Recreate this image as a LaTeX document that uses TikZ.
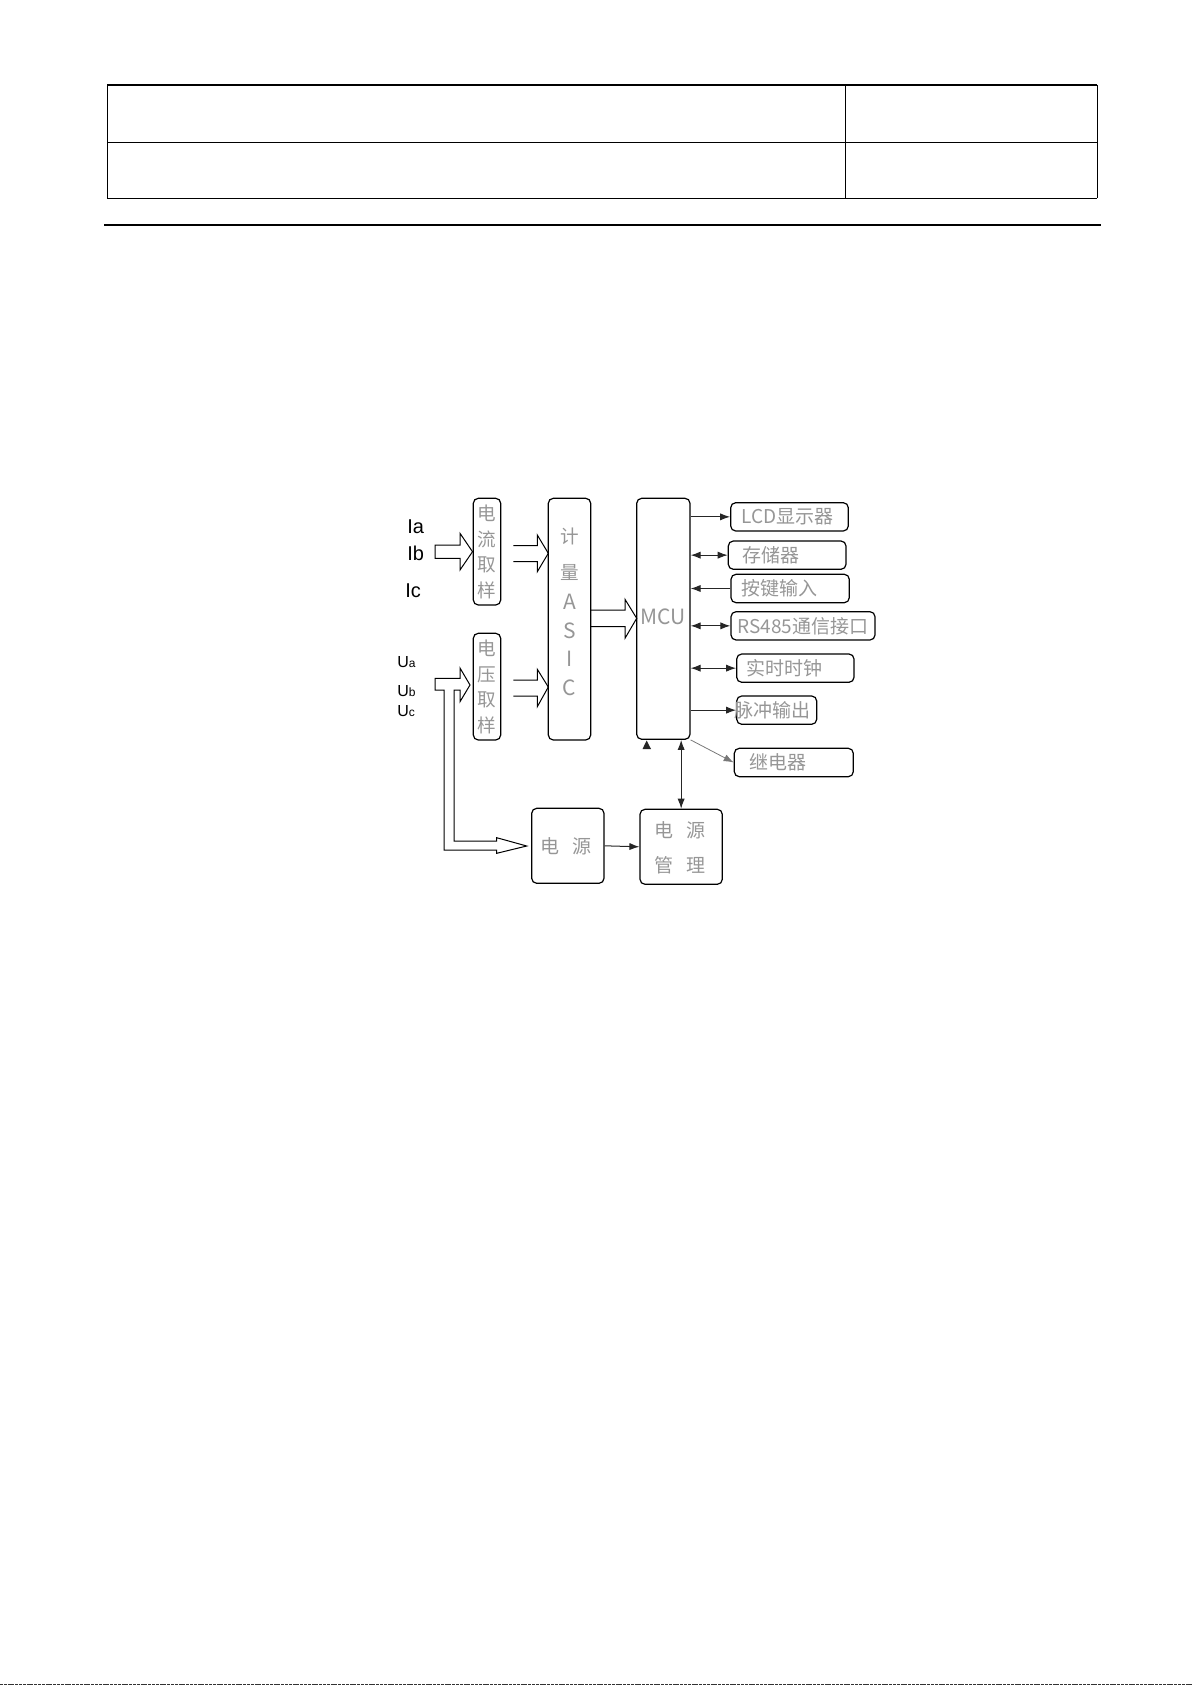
\documentclass[tikz,border=0pt]{standalone}
\usepackage{fontspec}
\setmainfont{Liberation Sans}
\newfontfamily\cjk{Noto Sans CJK SC}
\usetikzlibrary{arrows.meta,fit}
\definecolor{txtgray}{RGB}{150,150,150}
\definecolor{linegray}{RGB}{120,120,120}
\begin{document}
\begin{tikzpicture}[x=0.5pt,y=-0.5pt,
  blk/.style={draw=black, line width=0.6pt, rounded corners=2.5pt, inner sep=0pt},
  lbl/.style={font=\cjk\fontsize{9.5}{11}\selectfont, text=txtgray, inner sep=0pt},
  vlbl/.style={font=\cjk\fontsize{9.3}{12.85}\selectfont, text=txtgray, align=center, inner sep=0pt},
  conn/.style={line width=0.5pt, draw=black!85, -{Latex[length=5pt,width=3.6pt]}},
  conn2/.style={line width=0.5pt, draw=black!85, {Latex[length=5pt,width=3.6pt]}-{Latex[length=5pt,width=3.6pt]}},
  hollow/.style={draw=black, line width=0.5pt, line join=miter},
  sig/.style={font=\fontsize{10}{12}\selectfont, inner sep=0pt, anchor=base west},
  sigu/.style={font=\fontsize{8}{9}\selectfont, inner sep=0pt, anchor=base west},
  rule/.style={draw=black, line width=0.6pt},
  vrule/.style={draw=black, line width=0.4pt}
]
\useasboundingbox (0,0) rectangle (1192,1685);

% header table
\draw[rule] (107.2,85) -- (1097,85);
\draw[rule] (107.2,142.3) -- (1097,142.3);
\draw[rule] (107.2,198.3) -- (1097,198.3);
\draw[vrule] (107.2,85) -- (107.2,198.3);
\draw[vrule] (845.4,85) -- (845.4,198.3);
\draw[vrule] (1097,85) -- (1097,198.3);
\draw[draw=black, line width=1.1pt] (104,225) -- (1100.8,225);

% bottom edge
\draw[draw=black!80, line width=0.5pt, dash pattern=on 1.5pt off 0.4pt] (0,1684) -- (1192,1684);

% boxes
\node[blk, fit={(473.3,498.3) (500.7,605)}] (cs) {};
\node[blk, fit={(473.3,633.3) (500.7,740)}] (vs) {};
\node[blk, fit={(548.3,498.3) (590.7,740)}] (asic) {};
\node[blk, fit={(636.7,498.3) (690,739.3)}] (mcu) {};
\node[blk, fit={(730.7,502.7) (848.3,531)}] (lcd) {};
\node[blk, fit={(728.3,541) (846,569.3)}] (mem) {};
\node[blk, fit={(731,574.3) (849.3,602.7)}] (key) {};
\node[blk, fit={(731,611.7) (875,640)}] (rs) {};
\node[blk, fit={(736.7,654) (854,682.3)}] (rtc) {};
\node[blk, fit={(736.7,696) (816.7,724.3)}] (pulse) {};
\node[blk, fit={(734.3,748.3) (853.3,776.7)}] (relay) {};
\node[blk, fit={(531.7,808.3) (604,883.3)}] (psu) {};
\node[blk, fit={(640,809.3) (722.3,884.3)}] (pm) {};

% box texts
\node[vlbl] (tcs) at (487,552) {电\\流\\取\\样};
\node[vlbl] (tvs) at (487,687) {电\\压\\取\\样};
\node[vlbl, font=\cjk\fontsize{9.3}{17.85}\selectfont] (tasic1) at (569.5,554) {计\\量};
\node[vlbl, font=\cjk\fontsize{10.5}{14.25}\selectfont] (tasic2) at (569.5,645) {A\\S\\I\\C};
\node[lbl, font=\cjk\fontsize{10.5}{12}\selectfont] (tmcu) at (663,617) {MCU};
\node[lbl] (tlcd) at (787.5,517) {LCD显示器};
\node[lbl] (tmem) at (770.7,555) {存储器};
\node[lbl] (tkey) at (779,588.5) {按键输入};
\node[lbl] (trs) at (803,626) {RS485通信接口};
\node[lbl] (trtc) at (784,668) {实时时钟};
\node[lbl] (tpulse) at (772,710) {脉冲输出};
\node[lbl] (trelay) at (778,762.5) {继电器};
\node[lbl] (tpsu) at (566,846) {电\hspace{7pt}源};
\node[lbl, align=center, font=\cjk\fontsize{9.5}{17.5}\selectfont] (tpm) at (680,847.5) {电\hspace{7pt}源\\管\hspace{7pt}理};

% input labels
\node[sig] (ia) at (407,533.3) {Ia};
\node[sig] (ib) at (407,560) {Ib};
\node[sig] (ic) at (405,597) {Ic};
\node[sigu] (ua) at (397,667) {U{\fontsize{6}{7}\selectfont a}};
\node[sigu] (ub) at (397,696) {U{\fontsize{6}{7}\selectfont b}};
\node[sigu] (uc) at (397,716.7) {U{\fontsize{6}{7}\selectfont c}};

% hollow block arrows
\draw[hollow] (435,545) -- (460,545) -- (460,533.3) -- (472.5,551.7) -- (460,570) -- (460,558.3) -- (435,558.3) -- cycle;
\draw[hollow] (513.3,545.7) -- (537.3,545.7) -- (537.3,535) -- (548.3,553.3) -- (537.3,571.7) -- (537.3,561.7) -- (513.3,561.7);
\draw[hollow] (513.3,680) -- (537.3,680) -- (537.3,669.3) -- (548.3,687) -- (537.3,706.7) -- (537.3,696) -- (513.3,696);
\draw[hollow] (590.7,610) -- (625,610) -- (625,599.3) -- (636.7,618.3) -- (625,638.3) -- (625,626.7) -- (590.7,626.7);
\draw[hollow] (435,678.3) -- (460,678.3) -- (460,668) -- (470,685) -- (460,701.7) -- (460,690)
  -- (454,690) -- (454,841) -- (496.7,841) -- (496.7,837.7) -- (526.7,846) -- (496.7,853.3)
  -- (496.7,850) -- (444,850) -- (444,690) -- (435,690) -- cycle;

% connectors
\draw[conn] (mcu.east |- lcd.west) -- (lcd.west);
\draw[conn2] (mcu.east |- mem.west) -- (mem.west);
\draw[conn] (key.west) -- (mcu.east |- key.west);
\draw[conn2] (mcu.east |- rs.west) -- (rs.west);
\draw[conn2] (mcu.east |- rtc.west) -- (rtc.west);
\draw[conn] (mcu.east |- pulse.west) -- (pulse.west);
\draw[conn, draw=linegray, line width=0.4pt] (mcu.south east) -- (relay.west);
\draw[conn2] (pm.north) -- (pm.north |- mcu.south);
\draw[conn] (psu.east) -- (pm.west);
\fill[black!85] (642.5,749) -- (651,749) -- (646.7,740.5) -- cycle;
\end{tikzpicture}
\end{document}
